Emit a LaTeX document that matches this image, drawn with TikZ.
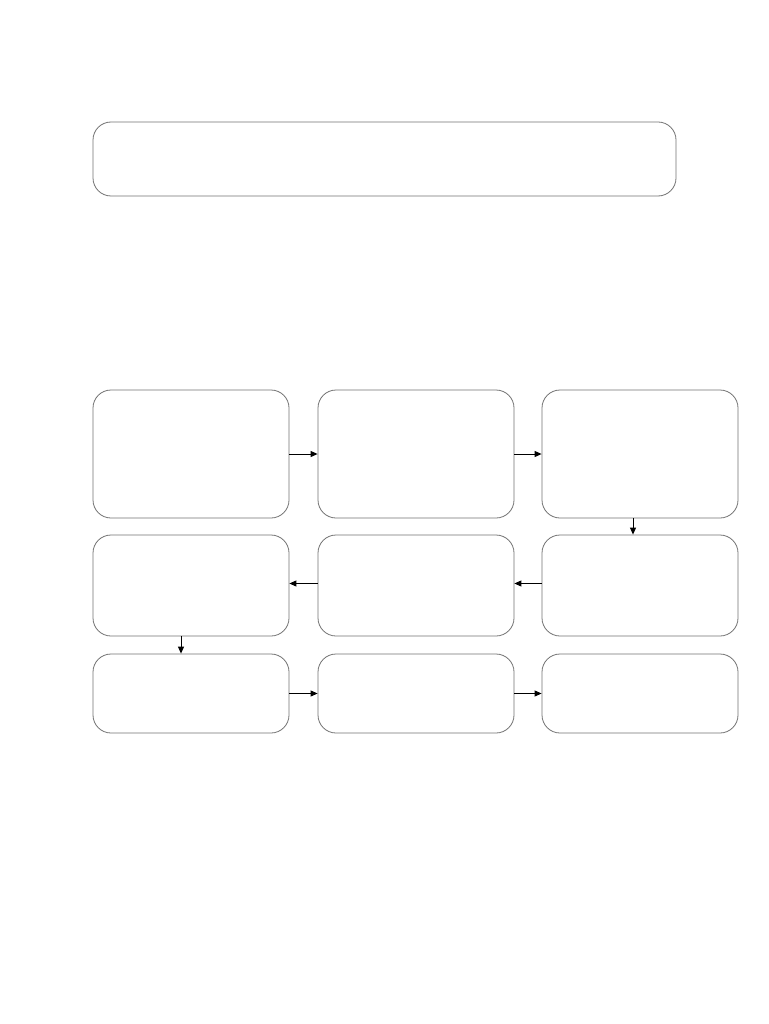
\documentclass[tikz,border=0pt]{standalone}
\usetikzlibrary{arrows.meta}
\begin{document}
\begin{tikzpicture}[x=1pt,y=-1pt,
  box/.style={draw=black!55,line width=0.8pt,rounded corners=18pt,inner sep=0pt,fill=white},
  arr/.style={draw=black,line width=0.9pt,-{Triangle[length=7pt,width=6pt]}}]
\useasboundingbox[fill=white] (0,0) rectangle (768,1024);
\node[box,minimum width=583pt,minimum height=74pt] (top) at (384.5,159) {};
% row 1
\node[box,minimum width=196pt,minimum height=128pt] (a1) at (191,454) {};
\node[box,minimum width=196pt,minimum height=128pt] (a2) at (416,454) {};
\node[box,minimum width=196pt,minimum height=128pt] (a3) at (640,454) {};
% row 2
\node[box,minimum width=196pt,minimum height=101pt] (b1) at (191,585.5) {};
\node[box,minimum width=196pt,minimum height=101pt] (b2) at (416,585.5) {};
\node[box,minimum width=196pt,minimum height=101pt] (b3) at (640,585.5) {};
% row 3
\node[box,minimum width=196pt,minimum height=79pt] (c1) at (191,693.5) {};
\node[box,minimum width=196pt,minimum height=79pt] (c2) at (416,693.5) {};
\node[box,minimum width=196pt,minimum height=79pt] (c3) at (640,693.5) {};
% connectors
\draw[arr] (a1.east) -- (a2.west);
\draw[arr] (a2.east) -- (a3.west);
\draw[arr] ([xshift=-7pt]a3.south) -- ([xshift=-7pt]b3.north);
\draw[arr] ([yshift=2pt]b3.west) -- ([yshift=2pt]b2.east);
\draw[arr] ([yshift=2pt]b2.west) -- ([yshift=2pt]b1.east);
\draw[arr] ([xshift=-10pt]b1.south) -- ([xshift=-10pt]c1.north);
\draw[arr] (c1.east) -- (c2.west);
\draw[arr] (c2.east) -- (c3.west);
\end{tikzpicture}
\end{document}
